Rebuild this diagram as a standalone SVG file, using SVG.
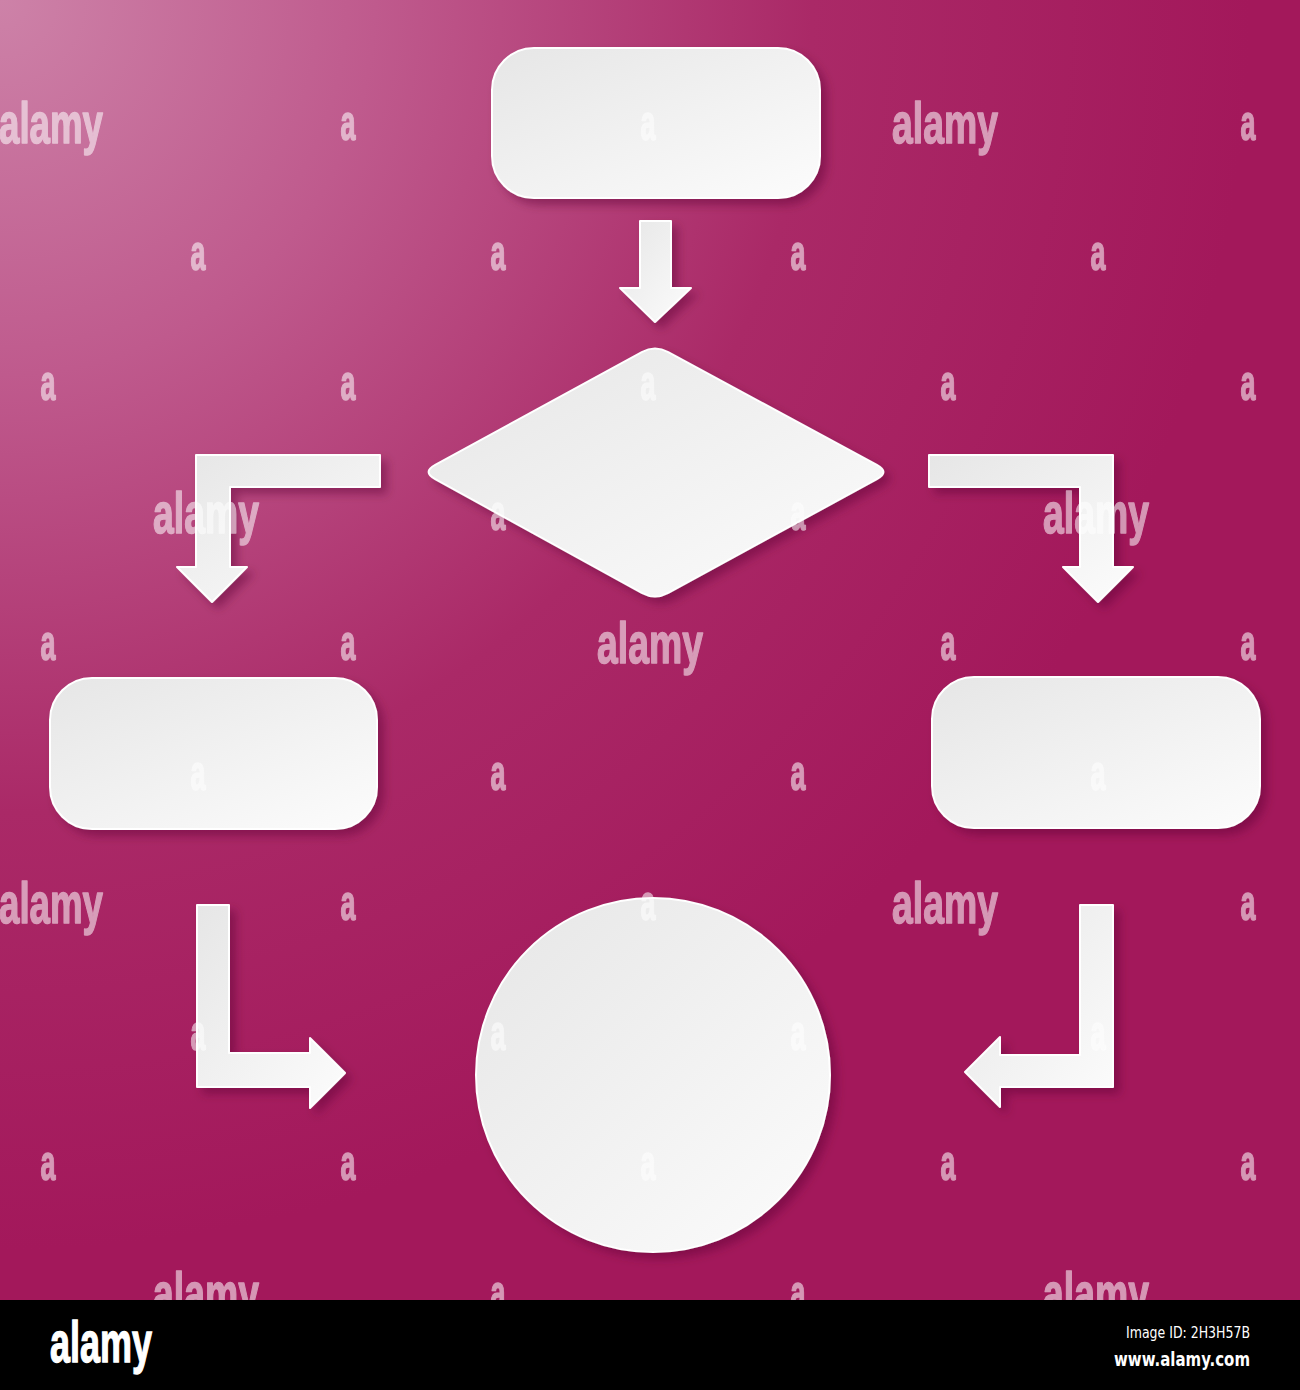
<svg xmlns="http://www.w3.org/2000/svg" width="1300" height="1390" viewBox="0 0 1300 1390">
<defs>
<radialGradient id="bg" cx="0" cy="0" r="1250" gradientUnits="userSpaceOnUse">
<stop offset="0" stop-color="#cd82a8"/>
<stop offset="0.3" stop-color="#bf5a8d"/>
<stop offset="0.65" stop-color="#aa2967"/>
<stop offset="1" stop-color="#a3185b"/>
</radialGradient>
<linearGradient id="paper" x1="0" y1="0" x2="1" y2="1">
<stop offset="0" stop-color="#e6e6e6"/>
<stop offset="1" stop-color="#fcfcfc"/>
</linearGradient>
<filter id="sh" x="-20%" y="-20%" width="150%" height="150%">
<feDropShadow dx="6" dy="6" stdDeviation="5" flood-color="#5a0630" flood-opacity="0.45"/>
</filter>
<clipPath id="field"><rect x="0" y="0" width="1300" height="1300"/></clipPath>
</defs>
<style>
.paper{fill:url(#paper);stroke:#ffffff;stroke-width:2;stroke-linejoin:round;filter:url(#sh)}
.wm{font-family:"Liberation Sans","DejaVu Sans",sans-serif;font-weight:bold;fill:#ffffff;stroke:#ffffff;stroke-width:1.5;stroke-linejoin:round;opacity:0.55;text-anchor:middle}
.wa{font-size:50px}
.wl{font-size:58px}
.bar{font-family:"DejaVu Sans","Liberation Sans",sans-serif;fill:#ffffff}
</style>
<rect x="0" y="0" width="1300" height="1300" fill="url(#bg)"/>

<g id="connectors">
<path class="paper" d="M640,221 L671,221 L671,288 L691,288 L655,322 L620,288 L640,288 Z"/>
<path class="paper" d="M380,455 L380,487 L230,487 L230,567 L247,567 L212,602 L177,567 L196,567 L196,455 Z"/>
<path class="paper" d="M929,455 L1113,455 L1113,567 L1133,567 L1098,602 L1063,567 L1080,567 L1080,487 L929,487 Z"/>
<path class="paper" d="M197,905 L229,905 L229,1053 L310,1053 L310,1038 L345,1073 L310,1108 L310,1087 L197,1087 Z"/>
<path class="paper" d="M1080,905 L1113,905 L1113,1087 L1000,1087 L1000,1107 L965,1072 L1000,1037 L1000,1055 L1080,1055 Z"/>
</g>

<g id="node-start"><rect class="paper" x="492" y="48" width="328" height="150" rx="42"/></g>
<g id="node-decision"><path class="paper" d="M641.8,352.1 Q655,345 668.2,352.1 L876.8,464.9 Q890,472 876.8,479.2 L668.2,592.8 Q655,600 641.8,592.8 L435.2,479.1 Q422,472 435.2,464.9 Z"/></g>
<g id="node-left"><rect class="paper" x="50" y="678" width="327" height="151" rx="42"/></g>
<g id="node-right"><rect class="paper" x="932" y="677" width="328" height="151" rx="42"/></g>
<g id="node-end"><circle class="paper" cx="653" cy="1075" r="177"/></g>

<g id="watermarks" clip-path="url(#field)">
<text class="wm wl" x="51" y="143" textLength="104" lengthAdjust="spacingAndGlyphs">alamy</text>
<text class="wm wl" x="945" y="143" textLength="106" lengthAdjust="spacingAndGlyphs">alamy</text>
<text class="wm wl" x="206" y="533" textLength="106" lengthAdjust="spacingAndGlyphs">alamy</text>
<text class="wm wl" x="1096" y="533" textLength="106" lengthAdjust="spacingAndGlyphs">alamy</text>
<text class="wm wl" x="650" y="663" textLength="106" lengthAdjust="spacingAndGlyphs">alamy</text>
<text class="wm wl" x="51" y="923" textLength="104" lengthAdjust="spacingAndGlyphs">alamy</text>
<text class="wm wl" x="945" y="923" textLength="106" lengthAdjust="spacingAndGlyphs">alamy</text>
<text class="wm wl" x="206" y="1313" textLength="106" lengthAdjust="spacingAndGlyphs">alamy</text>
<text class="wm wl" x="1096" y="1313" textLength="106" lengthAdjust="spacingAndGlyphs">alamy</text>
<text class="wm wa" x="348" y="140" textLength="15" lengthAdjust="spacingAndGlyphs">a</text>
<text class="wm wa" x="648" y="140" textLength="15" lengthAdjust="spacingAndGlyphs">a</text>
<text class="wm wa" x="1248" y="140" textLength="15" lengthAdjust="spacingAndGlyphs">a</text>
<text class="wm wa" x="198" y="270" textLength="15" lengthAdjust="spacingAndGlyphs">a</text>
<text class="wm wa" x="498" y="270" textLength="15" lengthAdjust="spacingAndGlyphs">a</text>
<text class="wm wa" x="798" y="270" textLength="15" lengthAdjust="spacingAndGlyphs">a</text>
<text class="wm wa" x="1098" y="270" textLength="15" lengthAdjust="spacingAndGlyphs">a</text>
<text class="wm wa" x="48" y="400" textLength="15" lengthAdjust="spacingAndGlyphs">a</text>
<text class="wm wa" x="348" y="400" textLength="15" lengthAdjust="spacingAndGlyphs">a</text>
<text class="wm wa" x="648" y="400" textLength="15" lengthAdjust="spacingAndGlyphs">a</text>
<text class="wm wa" x="948" y="400" textLength="15" lengthAdjust="spacingAndGlyphs">a</text>
<text class="wm wa" x="1248" y="400" textLength="15" lengthAdjust="spacingAndGlyphs">a</text>
<text class="wm wa" x="498" y="530" textLength="15" lengthAdjust="spacingAndGlyphs">a</text>
<text class="wm wa" x="798" y="530" textLength="15" lengthAdjust="spacingAndGlyphs">a</text>
<text class="wm wa" x="48" y="660" textLength="15" lengthAdjust="spacingAndGlyphs">a</text>
<text class="wm wa" x="348" y="660" textLength="15" lengthAdjust="spacingAndGlyphs">a</text>
<text class="wm wa" x="948" y="660" textLength="15" lengthAdjust="spacingAndGlyphs">a</text>
<text class="wm wa" x="1248" y="660" textLength="15" lengthAdjust="spacingAndGlyphs">a</text>
<text class="wm wa" x="198" y="790" textLength="15" lengthAdjust="spacingAndGlyphs">a</text>
<text class="wm wa" x="498" y="790" textLength="15" lengthAdjust="spacingAndGlyphs">a</text>
<text class="wm wa" x="798" y="790" textLength="15" lengthAdjust="spacingAndGlyphs">a</text>
<text class="wm wa" x="1098" y="790" textLength="15" lengthAdjust="spacingAndGlyphs">a</text>
<text class="wm wa" x="348" y="920" textLength="15" lengthAdjust="spacingAndGlyphs">a</text>
<text class="wm wa" x="648" y="920" textLength="15" lengthAdjust="spacingAndGlyphs">a</text>
<text class="wm wa" x="1248" y="920" textLength="15" lengthAdjust="spacingAndGlyphs">a</text>
<text class="wm wa" x="198" y="1050" textLength="15" lengthAdjust="spacingAndGlyphs">a</text>
<text class="wm wa" x="498" y="1050" textLength="15" lengthAdjust="spacingAndGlyphs">a</text>
<text class="wm wa" x="798" y="1050" textLength="15" lengthAdjust="spacingAndGlyphs">a</text>
<text class="wm wa" x="1098" y="1050" textLength="15" lengthAdjust="spacingAndGlyphs">a</text>
<text class="wm wa" x="48" y="1180" textLength="15" lengthAdjust="spacingAndGlyphs">a</text>
<text class="wm wa" x="348" y="1180" textLength="15" lengthAdjust="spacingAndGlyphs">a</text>
<text class="wm wa" x="648" y="1180" textLength="15" lengthAdjust="spacingAndGlyphs">a</text>
<text class="wm wa" x="948" y="1180" textLength="15" lengthAdjust="spacingAndGlyphs">a</text>
<text class="wm wa" x="1248" y="1180" textLength="15" lengthAdjust="spacingAndGlyphs">a</text>
<text class="wm wa" x="498" y="1310" textLength="15" lengthAdjust="spacingAndGlyphs">a</text>
<text class="wm wa" x="798" y="1310" textLength="15" lengthAdjust="spacingAndGlyphs">a</text>
</g>

<rect x="0" y="1300" width="1300" height="90" fill="#000000"/>
<g id="footer">
<text x="50" y="1362" font-family="Liberation Sans, sans-serif" font-weight="bold" font-size="58" fill="#ffffff" stroke="#ffffff" stroke-width="1.4" textLength="102" lengthAdjust="spacingAndGlyphs">alamy</text>
<text class="bar" x="1250" y="1338" font-size="16" text-anchor="end" textLength="124" lengthAdjust="spacingAndGlyphs">Image ID: 2H3H57B</text>
<text class="bar" x="1250" y="1366" font-size="20" font-weight="bold" text-anchor="end" textLength="136" lengthAdjust="spacingAndGlyphs">www.alamy.com</text>
</g>
</svg>
